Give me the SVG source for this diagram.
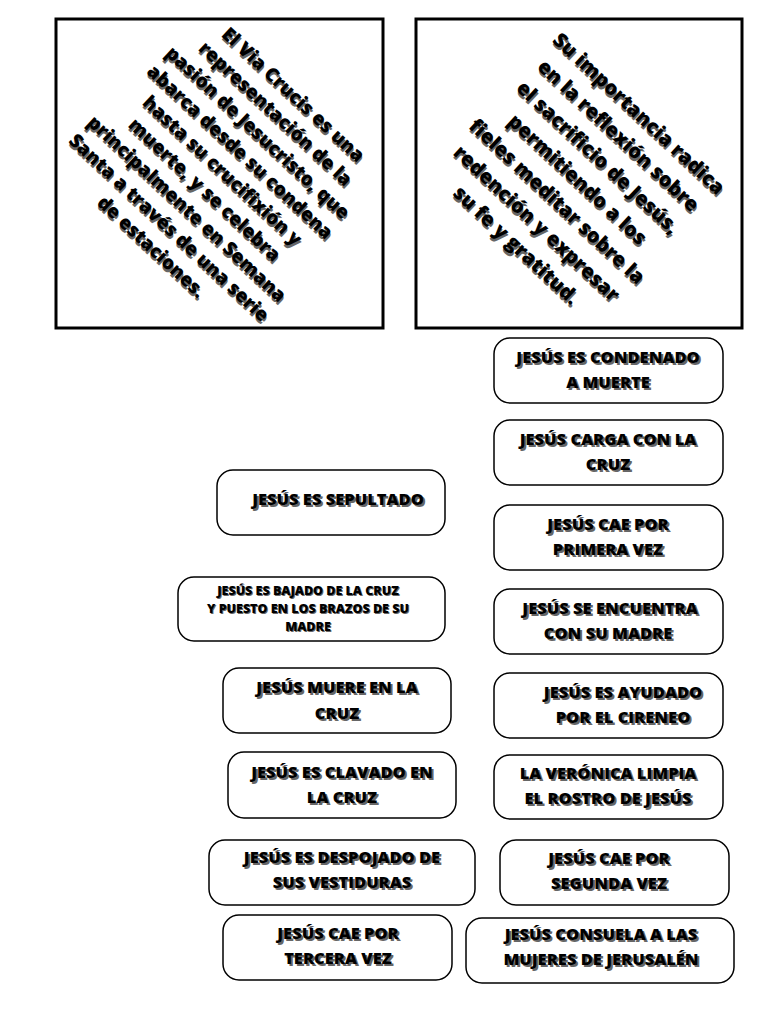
<svg xmlns="http://www.w3.org/2000/svg" width="768" height="1024" viewBox="0 0 768 1024">
<style>
.sq{fill:#fff;stroke:#000;stroke-width:3}
.bx{fill:#fff;stroke:#000;stroke-width:1.5}
text{font-family:"Open Sans",Lato,sans-serif;font-weight:800;text-anchor:middle}
.t{font-size:16.5px}
.s{font-size:12.5px}
.r{font-size:20px}
.r2{font-size:19px}
.sh{fill:#666}
</style>
<rect width="768" height="1024" fill="#fff"/>
<g id="intro">
<rect class="sq" x="56" y="19" width="327" height="309"/>
<g transform="translate(222,171) rotate(43)">
<g class="sh" transform="translate(2,2)">
<text class="r2" y="-98">El Via Crucis es una</text><text class="r2" y="-72">representación de la</text><text class="r2" y="-46">pasión de Jesucristo, que</text><text class="r2" y="-20">abarca desde su condena</text><text class="r2" y="6">hasta su crucifixión y</text><text class="r2" y="32">muerte, y se celebra</text><text class="r2" y="58">principalmente en Semana</text><text class="r2" y="84">Santa a través de una serie</text><text class="r2" y="110">de estaciones.</text>
</g>
<text class="r2" y="-98">El Via Crucis es una</text><text class="r2" y="-72">representación de la</text><text class="r2" y="-46">pasión de Jesucristo, que</text><text class="r2" y="-20">abarca desde su condena</text><text class="r2" y="6">hasta su crucifixión y</text><text class="r2" y="32">muerte, y se celebra</text><text class="r2" y="58">principalmente en Semana</text><text class="r2" y="84">Santa a través de una serie</text><text class="r2" y="110">de estaciones.</text>
</g>
</g>
<g id="importancia">
<rect class="sq" x="416" y="19" width="326" height="309"/>
<g transform="translate(577,180) rotate(43)">
<g class="sh" transform="translate(2,2)">
<text class="r" y="-84">Su importancia radica</text><text class="r" y="-54">en la reflexión sobre</text><text class="r" y="-24">el sacrificio de Jesús,</text><text class="r" y="6">permitiendo a los</text><text class="r" y="36">fieles meditar sobre la</text><text class="r" y="66">redención y expresar</text><text class="r" y="96">su fe y gratitud.</text>
</g>
<text class="r" y="-84">Su importancia radica</text><text class="r" y="-54">en la reflexión sobre</text><text class="r" y="-24">el sacrificio de Jesús,</text><text class="r" y="6">permitiendo a los</text><text class="r" y="36">fieles meditar sobre la</text><text class="r" y="66">redención y expresar</text><text class="r" y="96">su fe y gratitud.</text>
</g>
</g>
<g id="r1"><rect class="bx" x="494" y="338" width="229" height="65" rx="16"/><text class="t sh" x="610" y="365">JESÚS ES CONDENADO</text><text class="t" x="608" y="363">JESÚS ES CONDENADO</text><text class="t sh" x="610" y="390">A MUERTE</text><text class="t" x="608" y="388">A MUERTE</text></g>
<g id="r2"><rect class="bx" x="494" y="420" width="229" height="65" rx="16"/><text class="t sh" x="610" y="447">JESÚS CARGA CON LA</text><text class="t" x="608" y="445">JESÚS CARGA CON LA</text><text class="t sh" x="610" y="472">CRUZ</text><text class="t" x="608" y="470">CRUZ</text></g>
<g id="r3"><rect class="bx" x="494" y="505" width="229" height="65" rx="16"/><text class="t sh" x="610" y="532">JESÚS CAE POR</text><text class="t" x="608" y="530">JESÚS CAE POR</text><text class="t sh" x="610" y="557">PRIMERA VEZ</text><text class="t" x="608" y="555">PRIMERA VEZ</text></g>
<g id="r4"><rect class="bx" x="494" y="589" width="229" height="65" rx="16"/><text class="t sh" x="612" y="616">JESÚS SE ENCUENTRA</text><text class="t" x="610" y="614">JESÚS SE ENCUENTRA</text><text class="t sh" x="610" y="641">CON SU MADRE</text><text class="t" x="608" y="639">CON SU MADRE</text></g>
<g id="r5"><rect class="bx" x="494" y="673" width="229" height="65" rx="16"/><text class="t sh" x="625" y="700">JESÚS ES AYUDADO</text><text class="t" x="623" y="698">JESÚS ES AYUDADO</text><text class="t sh" x="625" y="725">POR EL CIRENEO</text><text class="t" x="623" y="723">POR EL CIRENEO</text></g>
<g id="r6"><rect class="bx" x="494" y="755" width="229" height="64" rx="16"/><text class="t sh" x="610" y="781">LA VERÓNICA LIMPIA</text><text class="t" x="608" y="779">LA VERÓNICA LIMPIA</text><text class="t sh" x="610" y="806">EL ROSTRO DE JESÚS</text><text class="t" x="608" y="804">EL ROSTRO DE JESÚS</text></g>
<g id="r7"><rect class="bx" x="500" y="840" width="229" height="65" rx="16"/><text class="t sh" x="611" y="866">JESÚS CAE POR</text><text class="t" x="609" y="864">JESÚS CAE POR</text><text class="t sh" x="611" y="891">SEGUNDA VEZ</text><text class="t" x="609" y="889">SEGUNDA VEZ</text></g>
<g id="r8"><rect class="bx" x="466" y="918" width="268" height="65" rx="16"/><text class="t sh" x="603" y="942">JESÚS CONSUELA A LAS</text><text class="t" x="601" y="940">JESÚS CONSUELA A LAS</text><text class="t sh" x="603" y="967">MUJERES DE JERUSALÉN</text><text class="t" x="601" y="965">MUJERES DE JERUSALÉN</text></g>
<g id="l1"><rect class="bx" x="217" y="470" width="228" height="65" rx="16"/><text class="t sh" x="340" y="507">JESÚS ES SEPULTADO</text><text class="t" x="338" y="505">JESÚS ES SEPULTADO</text></g>
<g id="l2"><rect class="bx" x="178" y="577" width="267" height="64" rx="16"/><text class="s sh" x="309" y="596">JESÚS ES BAJADO DE LA CRUZ</text><text class="s" x="308" y="595">JESÚS ES BAJADO DE LA CRUZ</text><text class="s sh" x="309" y="614">Y PUESTO EN LOS BRAZOS DE SU</text><text class="s" x="308" y="613">Y PUESTO EN LOS BRAZOS DE SU</text><text class="s sh" x="309" y="632">MADRE</text><text class="s" x="308" y="631">MADRE</text></g>
<g id="l3"><rect class="bx" x="223" y="668" width="228" height="65" rx="16"/><text class="t sh" x="339" y="695">JESÚS MUERE EN LA</text><text class="t" x="337" y="693">JESÚS MUERE EN LA</text><text class="t sh" x="339" y="721">CRUZ</text><text class="t" x="337" y="719">CRUZ</text></g>
<g id="l4"><rect class="bx" x="228" y="752" width="228" height="66" rx="16"/><text class="t sh" x="344" y="780">JESÚS ES CLAVADO EN</text><text class="t" x="342" y="778">JESÚS ES CLAVADO EN</text><text class="t sh" x="344" y="805">LA CRUZ</text><text class="t" x="342" y="803">LA CRUZ</text></g>
<g id="l5"><rect class="bx" x="209" y="840" width="266" height="65" rx="16"/><text class="t sh" x="344" y="865">JESÚS ES DESPOJADO DE</text><text class="t" x="342" y="863">JESÚS ES DESPOJADO DE</text><text class="t sh" x="344" y="890">SUS VESTIDURAS</text><text class="t" x="342" y="888">SUS VESTIDURAS</text></g>
<g id="l6"><rect class="bx" x="223" y="915" width="229" height="65" rx="16"/><text class="t sh" x="340" y="941">JESÚS CAE POR</text><text class="t" x="338" y="939">JESÚS CAE POR</text><text class="t sh" x="340" y="966">TERCERA VEZ</text><text class="t" x="338" y="964">TERCERA VEZ</text></g>
<g id="connectors"/>
</svg>
